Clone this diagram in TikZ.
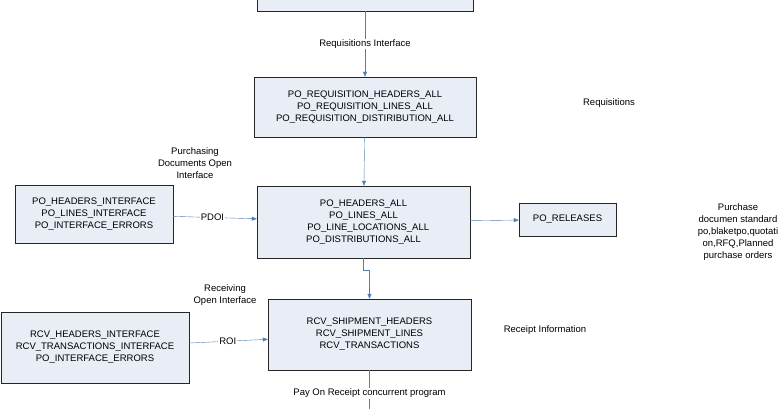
\documentclass[tikz,border=0pt]{standalone}
\usepackage{fontspec}
\setmainfont{Liberation Sans}
\usetikzlibrary{positioning,arrows.meta}
\definecolor{boxfill}{HTML}{E8EDF6}
\definecolor{linkblue}{HTML}{4F7FB8}
\tikzset{
  table/.style={draw=black!85, fill=boxfill, align=center, inner sep=0pt,
    font=\fontsize{9.5}{12}\selectfont},
  note/.style={align=center, font=\fontsize{9.5}{12}\selectfont},
  link/.style={draw=linkblue, -{Triangle[length=5pt,width=4pt]}},
  lbl/.style={fill=white, inner sep=1pt, font=\fontsize{9.5}{12}\selectfont}
}
\begin{document}
\begin{tikzpicture}[x=1pt,y=-1pt]
  \useasboundingbox (0,0) rectangle (780,409);
  \clip (0,0) rectangle (780,409);
  % tables
  \node [table, minimum width=216, minimum height=40] (Top) at (365,-9) {};
  \node [table, minimum width=222, minimum height=60] (Req) at (365,107)
    {PO\_REQUISITION\_HEADERS\_ALL\\PO\_REQUISITION\_LINES\_ALL\\PO\_REQUISITION\_DISTIRIBUTION\_ALL};
  \node [table, minimum width=213, minimum height=72] (PO) at (363.5,222)
    {PO\_HEADERS\_ALL\\PO\_LINES\_ALL\\\quad PO\_LINE\_LOCATIONS\_ALL\\PO\_DISTRIBUTIONS\_ALL};
  \node [table, minimum width=97, minimum height=33] (Rel) at (567.5,219.5) {PO\_RELEASES};
  \node [table, minimum width=158, minimum height=58] (POI) at (94,214)
    {PO\_HEADERS\_INTERFACE\\PO\_LINES\_INTERFACE\\PO\_INTERFACE\_ERRORS};
  \node [table, minimum width=203, minimum height=71] (RCV) at (369.5,334.5)
    {RCV\_SHIPMENT\_HEADERS\\RCV\_SHIPMENT\_LINES\\RCV\_TRANSACTIONS};
  \node [table, minimum width=188, minimum height=71] (RCVI) at (95,347.5)
    {RCV\_HEADERS\_INTERFACE\\RCV\_TRANSACTIONS\_INTERFACE\\PO\_INTERFACE\_ERRORS};
  \coordinate (End) at (369.5,409);
  % connectors
  \draw [link] (Top) -- node [lbl] {Requisitions Interface} (Req);
  \draw [link] (Req) -- (PO);
  \draw [link] (PO) -- (Rel);
  \draw [link] (POI) -- node [lbl, pos=0.47] {PDOI} (PO);
  \draw [link] (PO.south) -- ++(0,12) -| (RCV.north);
  \draw [link] (RCVI) -- node [lbl, pos=0.49] {ROI} (RCV);
  \draw [draw=linkblue] (RCV) -- node [lbl, pos=0.6] {Pay On Receipt concurrent program} (End);
  % notes
  \node [note] (NReq) at (609,103) {Requisitions};
  \node [note] (NPDOI) at (195,163) {Purchasing\\Documents Open\\Interface};
  \node [note] (NPur) at (738,232) {Purchase\\documen standard\\po,blaketpo,quotati\\on,RFQ,Planned\\purchase orders};
  \node [note] (NROI) at (225,295) {Receiving\\Open Interface};
  \node [note] (NRcpt) at (545,330) {Receipt Information};
\end{tikzpicture}
\end{document}
